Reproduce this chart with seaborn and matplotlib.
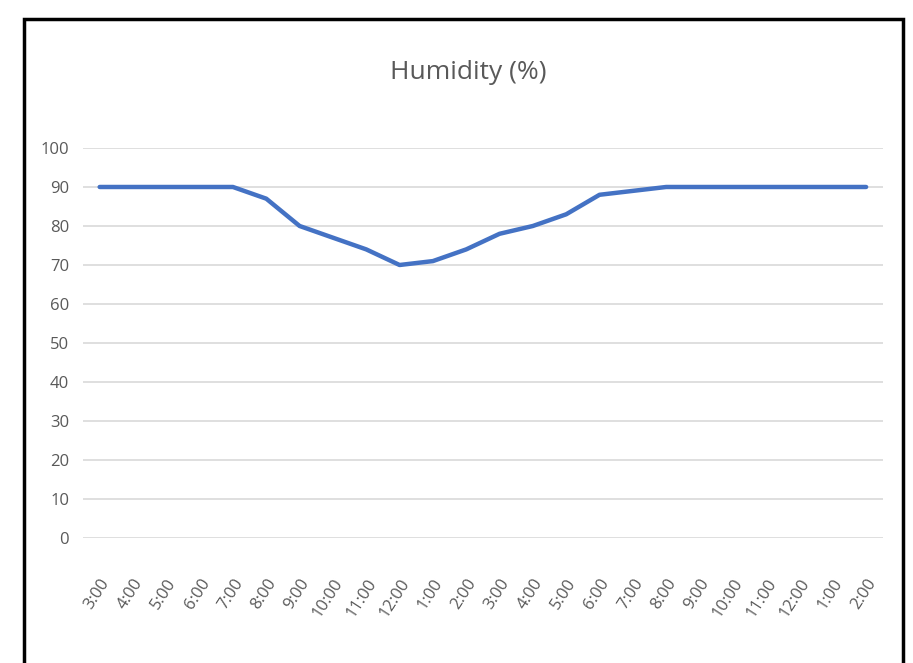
import matplotlib
matplotlib.use("Agg")
import matplotlib.pyplot as plt
import seaborn as sns
import numpy as np
import pandas as pd
from matplotlib.patches import Rectangle

# ---------------------
# Data
# ---------------------

hours = ['3:00', '4:00', '5:00', '6:00', '7:00', '8:00', '9:00', '10:00',
         '11:00', '12:00', '1:00', '2:00', '3:00', '4:00', '5:00', '6:00',
         '7:00', '8:00', '9:00', '10:00', '11:00', '12:00', '1:00', '2:00']
humidity = [90, 90, 90, 90, 90, 87, 80, 77, 74, 70, 71, 74,
            78, 80, 83, 88, 89, 90, 90, 90, 90, 90, 90, 90]
y_ticks = [0, 10, 20, 30, 40, 50, 60, 70, 80, 90, 100]

df = pd.DataFrame({'step': np.arange(len(hours)), 'humidity': humidity})

# ---------------------
# Plot
# ---------------------

sns.set_style('white')
plt.rcParams['font.family'] = ['Open Sans', 'DejaVu Sans']

fig = plt.figure(figsize=(9.13, 6.63), dpi=100)
ax = fig.add_axes([0.0909, 0.1885, 0.876, 0.5883])

sns.lineplot(data=df, x='step', y='humidity', ax=ax, color='#4472C4', linewidth=3.2)

ax.set_xlim(-0.5, len(hours) - 0.5)
ax.set_ylim(0, 100)
ax.set_yticks(y_ticks)
ax.set_xticks(df['step'])
ax.set_xticklabels(hours, rotation=57, ha='right', rotation_mode='anchor')
ax.set_xlabel('')
ax.set_ylabel('')

ax.grid(axis='y', color='#D9D9D9', linewidth=1.2)
ax.set_axisbelow(True)
for s in ax.spines.values():
    s.set_visible(False)
ax.tick_params(axis='both', length=0, labelsize=12, colors='#595959')
ax.tick_params(axis='x', pad=27)
ax.tick_params(axis='y', pad=10)

fig.text(0.513, 0.89, 'Humidity (%)', ha='center', va='center', fontsize=19, color='#595959')

# black frame around the chart
fig.patches.append(Rectangle((0.026, -0.05), 0.963, 1.022, transform=fig.transFigure,
                             fill=False, edgecolor='black', linewidth=2.5))

fig.savefig('out.png', dpi=100)
